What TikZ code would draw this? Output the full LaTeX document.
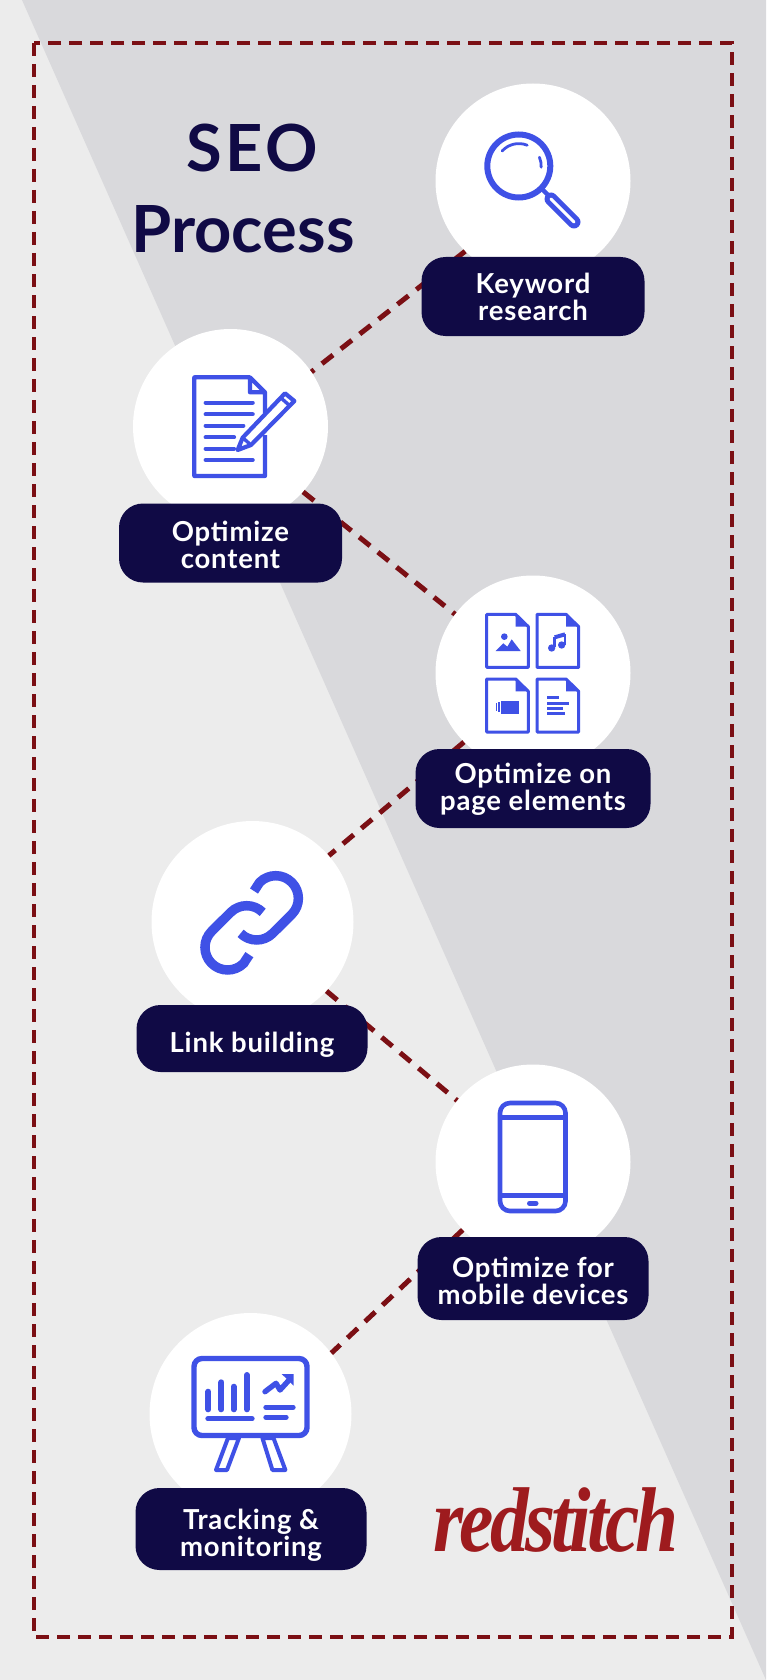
\documentclass[tikz,border=0pt]{standalone}
\usepackage{fontspec}
\setmainfont{Lato}
\newfontfamily\labelfont[LetterSpace=3]{Lato}
\newfontfamily\titlefont{Lato}
\newfontfamily\logofont[FakeStretch=.84,LetterSpace=-4]{Liberation Serif}
\definecolor{bgl}{HTML}{ECECEC}
\definecolor{bgd}{HTML}{D9D9DC}
\definecolor{navy}{HTML}{100A45}
\definecolor{stitch}{HTML}{7B0F14}
\definecolor{iconb}{HTML}{3F51E6}
\definecolor{logored}{HTML}{9E1B1E}
\newcommand{\lift}[1]{\rule{0pt}{#1pt}}
\tikzset{
  disc/.style={circle,fill=white,inner sep=0pt,minimum size=195pt},
  bigdisc/.style={circle,fill=white,inner sep=0pt,minimum size=202pt},
  pill/.style={rectangle,rounded corners=24pt,fill=navy,text=white,inner sep=0pt,align=center,
     font=\labelfont\bfseries\fontsize{27.5}{27}\selectfont},
  link/.style={draw=stitch,line width=5pt,dash pattern=on 14pt off 10pt},
  ico/.style={draw=iconb,line width=4.2pt,line join=round},
  icofill/.style={fill=iconb},
  bar/.style={draw=iconb,line width=5.4pt,line cap=round},
  thinbar/.style={draw=iconb,line width=4.2pt,line cap=round},
}
\begin{document}
\begin{tikzpicture}[x=1pt,y=1pt,yscale=-1]
\useasboundingbox (0,0) rectangle (766,1680);
\fill[bgl] (0,0) rectangle (766,1680);
\fill[bgd] (22,0) -- (766,1680) -- (766,0) -- cycle;
\draw[stitch,line width=4.6pt,dash pattern=on 13pt off 8pt] (34,43) rectangle (732,1637);
\node[disc] (c1) at (533,181) {};
\node[disc] (c2) at (230.5,426.5) {};
\node[disc] (c3) at (533,673) {};
\node[bigdisc] (c4) at (252.5,922) {};
\node[disc] (c5) at (533,1162) {};
\node[bigdisc] (c6) at (250.5,1414) {};
\draw[link] (c1.226) -- (c2.34);
\draw[link] (c2.318) -- (c3.143);
\draw[link] (c3.225) -- (c4.41);
\draw[link] (c4.317) -- (c5.141);
\draw[link] (c5.224) -- (c6.37);
\node[pill,minimum width=223pt,minimum height=79pt] (p1) at (533,296.5) {\lift{22}Keyword\\research};
\node[pill,minimum width=223pt,minimum height=79pt] (p2) at (230.5,543) {\lift{24}Optimize\\content};
\node[pill,minimum width=235pt,minimum height=79pt] (p3) at (533,788.5) {\lift{22}Optimize on\\page elements};
\node[pill,minimum width=231pt,minimum height=67pt] (p4) at (252,1038.5) {\lift{32}Link building};
\node[pill,minimum width=231pt,minimum height=83pt] (p5) at (533,1278.5) {\lift{26}Optimize for\\mobile devices};
\node[pill,minimum width=231pt,minimum height=82pt] (p6) at (251,1529) {\lift{32}Tracking \&\\monitoring};
\node[text=navy,align=center,font=\titlefont\bfseries\fontsize{65}{81}\selectfont] (title) at (243,189) {\hspace*{18pt}{\addfontfeature{LetterSpace=5}SEO}\\Process};
\node[text=logored,font=\logofont\bfseries\itshape\fontsize{92}{92}\selectfont] (logo) at (556,1520) {redstitch};
% magnifier
\draw[iconb,line width=6pt] (518.8,166) circle[radius=31.5];
\draw[iconb,line width=2.8pt,line cap=round] (518.8,166) ++(222:22.4) arc[start angle=222,end angle=292,radius=22.4];
\draw[iconb,line width=2.8pt,line cap=round] (518.8,166) ++(337:22.4) arc[start angle=337,end angle=363,radius=22.4];
\draw[iconb,line width=4.5pt] (541,188) -- (550,197);
\draw[iconb,line width=13pt,line cap=round] (551,199) -- (574,222);
\draw[white,line width=3pt,line cap=round] (551,199) -- (574,222);
% document + pencil
\begin{scope}[shift={(170,360)},scale=1/3]
\draw[ico] (240,52) -- (73,52) -- (73,348) -- (285,348) -- (285,97) -- (240,52) -- (240,97) -- (285,97);
\foreach \yy/\xx in {128/248,163/248,197/220,232/192,266/192,300/248}
  \draw[thinbar] (107,\yy) -- (\xx,\yy);
\draw[white,line width=6pt] (285,160) -- (285,225);
\draw[ico,fill=white] (203,270) -- (218,233) -- (345,100) -- (373,123) -- (243,255) -- cycle;
\draw[ico,line width=3.4pt] (332,113) -- (359,137);
\draw[ico,line width=3.4pt] (218,233) -- (243,255);
\fill[iconb] (203,270) -- (210,252) -- (222,263) -- cycle;
\end{scope}
% four files
\begin{scope}[shift={(400,560)},scale=1/3]
\foreach \dx/\dy in {0/0,151/0,0/194,151/194}{
\begin{scope}[shift={(\dx,\dy)}]
\draw[ico,line width=3pt] (347,163) -- (260,163) -- (260,322) -- (385,322) -- (385,200) -- cycle;
\fill[iconb] (347,163) -- (385,200) -- (347,200) -- cycle;
\end{scope}}
\fill[iconb] (313,230) circle[radius=10];
\fill[iconb] (287,273) -- (310,250) -- (322,260) -- (335,238) -- (362,273) -- cycle;
\fill[iconb] (455,264) circle[radius=11];
\fill[iconb] (485,255) circle[radius=11];
\draw[iconb,line width=2.6pt] (464,262) -- (464,232);
\draw[iconb,line width=2.6pt] (495,255) -- (495,222);
\draw[iconb,line width=4pt] (464,232) -- (495,223);
\fill[iconb] (303,422) rectangle (357,461);
\fill[iconb] (294,426) rectangle (300,457);
\fill[iconb] (288,430) rectangle (291,453);
\fill[iconb] (442,409) rectangle (478,417);
\fill[iconb] (442,426) rectangle (507,434);
\fill[iconb] (442,441) rectangle (488,449);
\fill[iconb] (442,456) rectangle (496,464);
\end{scope}
% chain
\begin{scope}[shift={(130,830)},scale=1/3]
\draw[iconb,line width=9.5pt] (372,183) -- (389,157) arc[start angle=225,end angle=405,radius=68] -- (428,310) arc[start angle=45,end angle=135,radius=68];
\begin{scope}[rotate around={180:(365,278.5)}]
\draw[iconb,line width=9.5pt] (372,183) -- (389,157) arc[start angle=225,end angle=405,radius=68] -- (428,310) arc[start angle=45,end angle=135,radius=68];
\end{scope}
\end{scope}
% phone
\draw[iconb,line width=4.6pt,rounded corners=10pt] (500,1103) rectangle (565.5,1211);
\draw[iconb,line width=4.6pt] (500,1117.7) -- (565.5,1117.7);
\draw[iconb,line width=4.6pt] (500,1195.7) -- (565.5,1195.7);
\draw[iconb,line width=5pt,line cap=round] (529.5,1203.3) -- (536,1203.3);
% board
\draw[iconb,line width=5.4pt,rounded corners=8pt] (194,1358.5) rectangle (307,1435.5);
\foreach \xx/\yy in {208.4/1391.7,221.4/1382.3,233.6/1386.7,246.9/1375}
  \draw[bar,line width=6pt] (\xx,\yy) -- (\xx,1409.3);
\draw[bar] (208,1418.7) -- (252,1418.7);
\draw[bar] (266,1407.3) -- (293,1407.3);
\draw[bar] (266,1417.3) -- (286,1417.3);
\draw[bar,line cap=round,line join=round] (265,1391.7) -- (276,1383.3) -- (280,1390) -- (290,1379);
\fill[iconb] (281.7,1374) -- (293.5,1374) -- (293.5,1385.5) -- cycle;
\draw[ico,line width=4pt] (228,1438) -- (239,1438) -- (227,1470) -- (216,1470) -- cycle;
\draw[ico,line width=4pt] (262.4,1438) -- (273.5,1438) -- (285.4,1470) -- (272.4,1470) -- cycle;
\end{tikzpicture}
\end{document}
